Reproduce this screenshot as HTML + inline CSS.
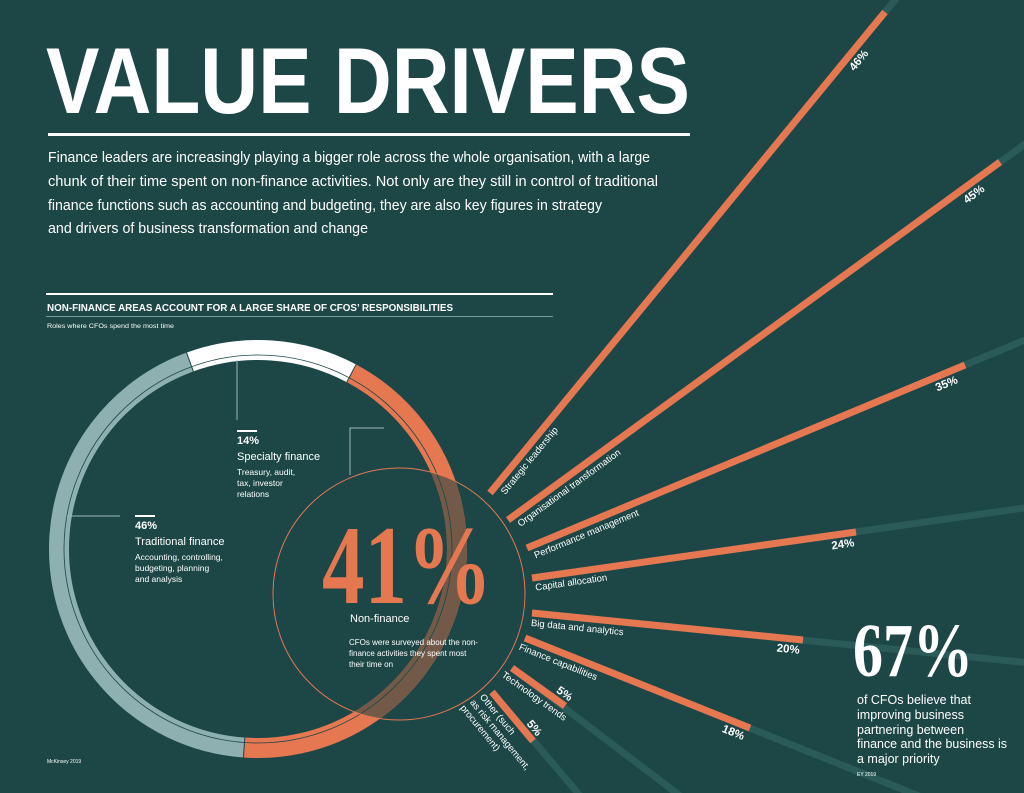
<!DOCTYPE html>
<html><head><meta charset="utf-8"><style>
html,body{margin:0;padding:0;background:#1d4646;width:1024px;height:793px;overflow:hidden}
svg{display:block}
text{font-family:"Liberation Sans",sans-serif;fill:#fff}
</style></head><body>
<svg width="1024" height="793" viewBox="0 0 1024 793" xmlns="http://www.w3.org/2000/svg">
<rect width="1024" height="793" fill="#1d4646"/>
<defs><clipPath id="cc"><circle cx="399" cy="594" r="126"/></clipPath></defs>

<!-- Title -->
<text x="46" y="113" font-size="94" font-weight="bold" textLength="644" lengthAdjust="spacingAndGlyphs">VALUE DRIVERS</text>
<rect x="48" y="133" width="642" height="3" fill="#fff"/>
<g font-size="14.5">
<text x="48" y="162" textLength="602" lengthAdjust="spacingAndGlyphs">Finance leaders are increasingly playing a bigger role across the whole organisation, with a large</text>
<text x="48" y="186" textLength="610" lengthAdjust="spacingAndGlyphs">chunk of their time spent on non-finance activities. Not only are they still in control of traditional</text>
<text x="48" y="210" textLength="554" lengthAdjust="spacingAndGlyphs">finance functions such as accounting and budgeting, they are also key figures in strategy</text>
<text x="48" y="233" textLength="320" lengthAdjust="spacingAndGlyphs">and drivers of business transformation and change</text>
</g>

<!-- chart heading -->
<rect x="46" y="293" width="507" height="2" fill="#fff"/>
<text x="47" y="311" font-size="10" font-weight="bold" textLength="406" lengthAdjust="spacingAndGlyphs">NON-FINANCE AREAS ACCOUNT FOR A LARGE SHARE OF CFOS’ RESPONSIBILITIES</text>
<rect x="46" y="316" width="507" height="0.8" fill="#8fb0b0"/>
<text x="47" y="328" font-size="6.5" textLength="127" lengthAdjust="spacingAndGlyphs">Roles where CFOs spend the most time</text>

<!-- rays (teal extensions) -->
<g stroke="#2b5b59" stroke-width="7">
<line x1="490" y1="493" x2="1250" y2="-432"/>
<line x1="508" y1="520" x2="1480" y2="-187"/>
<line x1="527" y1="548" x2="1640" y2="83"/>
<line x1="532" y1="578" x2="1720" y2="409"/>
<line x1="532" y1="613" x2="1720" y2="732"/>
<line x1="525" y1="638" x2="1640" y2="1085"/>
<line x1="512" y1="668" x2="1330" y2="1290"/>
<line x1="492" y1="692" x2="1000" y2="1290"/>
</g>
<g stroke="#e57851" stroke-width="7">
<line x1="490" y1="493" x2="885" y2="12"/>
<line x1="508" y1="520" x2="1000" y2="162"/>
<line x1="527" y1="548" x2="965" y2="365"/>
<line x1="532" y1="578" x2="856" y2="532"/>
<line x1="532" y1="613" x2="803" y2="640"/>
<line x1="525" y1="638" x2="750" y2="728"/>
<line x1="512" y1="668" x2="565" y2="706"/>
<line x1="492" y1="692" x2="533" y2="741"/>
</g>

<!-- ray labels -->
<g font-size="9.5">
<g transform="translate(490,493) rotate(-50.6)"><text x="8" y="13">Strategic leadership</text><text x="580" y="14" font-weight="bold" font-size="11.5" text-anchor="end">46%</text></g>
<g transform="translate(508,520) rotate(-36)"><text x="6" y="13">Organisational transformation</text><text x="580" y="14" font-weight="bold" font-size="11.5" text-anchor="end">45%</text></g>
<g transform="translate(527,548) rotate(-22.7)"><text x="4" y="13">Performance management</text><text x="462" y="14" font-weight="bold" font-size="11.5" text-anchor="end">35%</text></g>
<g transform="translate(532,578) rotate(-8.1)"><text x="2" y="13">Capital allocation</text><text x="324" y="14" font-weight="bold" font-size="11.5" text-anchor="end">24%</text></g>
<g transform="translate(532,613) rotate(5.7)"><text x="0" y="13">Big data and analytics</text><text x="270" y="14" font-weight="bold" font-size="11.5" text-anchor="end">20%</text></g>
<g transform="translate(525,638) rotate(21.8)"><text x="-2" y="13">Finance capabilities</text><text x="240" y="14" font-weight="bold" font-size="11.5" text-anchor="end">18%</text></g>
<g transform="translate(512,668) rotate(35.6)"><text x="-4" y="13">Technology trends</text><text x="66" y="-6" font-weight="bold" font-size="11.5" text-anchor="end">5%</text></g>
<g transform="translate(492,692) rotate(50.5)"><text x="-4" y="13">Other (such</text><text x="-6" y="24">as risk management,</text><text x="-8" y="35">procurement)</text><text x="63" y="-6" font-weight="bold" font-size="11.5" text-anchor="end">5%</text></g>
</g>

<!-- donut -->
<g fill="none" stroke-width="20">
<circle cx="258" cy="549" r="199" stroke="#fff" stroke-dasharray="166.7 2000" transform="rotate(-110 258 549)"/>
<circle cx="258" cy="549" r="199" stroke="#e57851" stroke-dasharray="541.8 2000" transform="rotate(-62 258 549)"/>
<circle cx="258" cy="549" r="199" stroke="#8fb0b0" stroke-dasharray="541.8 2000" transform="rotate(94 258 549)"/>
<g clip-path="url(#cc)"><circle cx="258" cy="549" r="199" stroke="#735a48" stroke-dasharray="541.8 2000" transform="rotate(-62 258 549)"/></g>
</g>
<circle cx="258" cy="549" r="194" fill="none" stroke="#1d4646" stroke-width="0.8"/>
<line x1="258" y1="338" x2="258" y2="360" stroke="#1d4646" stroke-width="1" transform="rotate(-20 258 549)"/>
<line x1="258" y1="338" x2="258" y2="360" stroke="#1d4646" stroke-width="1" transform="rotate(28 258 549)"/>
<line x1="258" y1="338" x2="258" y2="360" stroke="#1d4646" stroke-width="1" transform="rotate(184 258 549)"/>
<circle cx="399" cy="594" r="126" fill="none" stroke="#e57851" stroke-width="1"/>

<!-- connectors -->
<g stroke="#9fb8b8" stroke-width="1" fill="none">
<polyline points="237,360 237,420"/>
<polyline points="67,516 120,516"/>
<polyline points="384,428 350,428 350,475"/>
</g>

<!-- labels -->
<rect x="237" y="430" width="20" height="2" fill="#fff"/>
<text x="237" y="444" font-size="11" font-weight="bold">14%</text>
<text x="237" y="460" font-size="11">Specialty finance</text>
<g font-size="8.5"><text x="237" y="475">Treasury, audit,</text><text x="237" y="486">tax, investor</text><text x="237" y="497">relations</text></g>

<rect x="135" y="515" width="20" height="2" fill="#fff"/>
<text x="135" y="529" font-size="11" font-weight="bold">46%</text>
<text x="135" y="545" font-size="11">Traditional finance</text>
<g font-size="8.5"><text x="135" y="560">Accounting, controlling,</text><text x="135" y="571">budgeting, planning</text><text x="135" y="582">and analysis</text></g>

<text x="322" y="603" font-size="112" font-weight="bold" style="fill:#e57851;font-family:'Liberation Serif',serif" textLength="170" lengthAdjust="spacingAndGlyphs">41%</text>
<text x="350" y="622" font-size="11">Non-finance</text>
<g font-size="8"><text x="349" y="645">CFOs were surveyed about the non-</text><text x="349" y="656">finance activities they spent most</text><text x="349" y="667">their time on</text></g>

<text x="47" y="763" font-size="5">McKinsey 2019</text>

<text x="853" y="676" style="font-family:'Liberation Serif',serif" font-weight="bold" font-size="76" textLength="120" lengthAdjust="spacingAndGlyphs">67%</text>
<g font-size="12.5"><text x="857" y="704">of CFOs believe that</text><text x="857" y="719">improving business</text><text x="857" y="734">partnering between</text><text x="857" y="748" textLength="150" lengthAdjust="spacingAndGlyphs">finance and the business is</text><text x="857" y="763">a major priority</text></g>
<text x="857" y="776" font-size="5">EY 2019</text>
</svg>
</body></html>
